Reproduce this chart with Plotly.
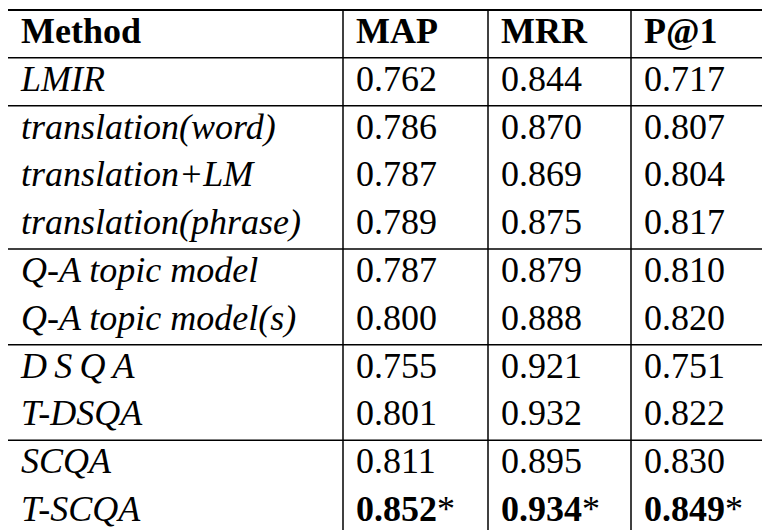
import plotly.graph_objects as go

# table content
headers = ["Method", "MAP", "MRR", "P@1"]
methods = [
    "LMIR",
    "translation(word)",
    "translation+LM",
    "translation(phrase)",
    "Q-A topic model",
    "Q-A topic model(s)",
    "D\u2009S\u2009Q\u2009A",
    "T-DSQA",
    "SCQA",
    "T-SCQA",
]
map_vals = ["0.762", "0.786", "0.787", "0.789", "0.787", "0.800", "0.755", "0.801", "0.811", "0.852"]
mrr_vals = ["0.844", "0.870", "0.869", "0.875", "0.879", "0.888", "0.921", "0.932", "0.895", "0.934"]
p1_vals = ["0.717", "0.807", "0.804", "0.817", "0.810", "0.820", "0.751", "0.822", "0.830", "0.849"]
best_row = 9  # bold + significance marker
group_breaks = [0, 1, 2, 5, 7, 9, 11]  # horizontal rules, in row units

# layout
W, H = 770, 530
col_edges = [0, 335, 480, 623]
pad = 13
n_rows = len(methods) + 1
px_per_row = (H - 4) / n_rows
top_off = 2 / px_per_row
font = dict(family="Liberation Serif", size=36, color="black")


def fmt(v, i):
    return f"<b>{v}</b>*" if i == best_row else v


columns = [
    ["<b>" + headers[0] + "</b>"] + [f"<i>{m}</i>" for m in methods],
    ["<b>" + headers[1] + "</b>"] + [fmt(v, i) for i, v in enumerate(map_vals)],
    ["<b>" + headers[2] + "</b>"] + [fmt(v, i) for i, v in enumerate(mrr_vals)],
    ["<b>" + headers[3] + "</b>"] + [fmt(v, i) for i, v in enumerate(p1_vals)],
]

fig = go.Figure()
for c, texts in enumerate(columns):
    fig.add_trace(
        go.Scatter(
            x=[col_edges[c] + pad] * len(texts),
            y=[r + 0.5 for r in range(len(texts))],
            mode="text",
            text=texts,
            textposition="middle right",
            textfont=font,
            hoverinfo="skip",
            showlegend=False,
        )
    )

shapes = []
for b in group_breaks:
    shapes.append(
        dict(type="line", xref="x", yref="y", x0=0, x1=W, y0=b, y1=b,
             line=dict(color="black", width=2 if b in (0, n_rows) else 1.5))
    )
for e in col_edges[1:]:
    shapes.append(
        dict(type="line", xref="x", yref="y", x0=e, x1=e, y0=0, y1=n_rows,
             line=dict(color="black", width=1.5))
    )

fig.update_layout(
    width=W,
    height=H,
    margin=dict(l=0, r=0, t=0, b=0),
    paper_bgcolor="white",
    plot_bgcolor="white",
    font=dict(family="Liberation Serif"),
    shapes=shapes,
    xaxis=dict(range=[0, W], visible=False, fixedrange=True),
    yaxis=dict(range=[n_rows + top_off, -top_off], visible=False, fixedrange=True),
)

fig.write_html("out.html")
